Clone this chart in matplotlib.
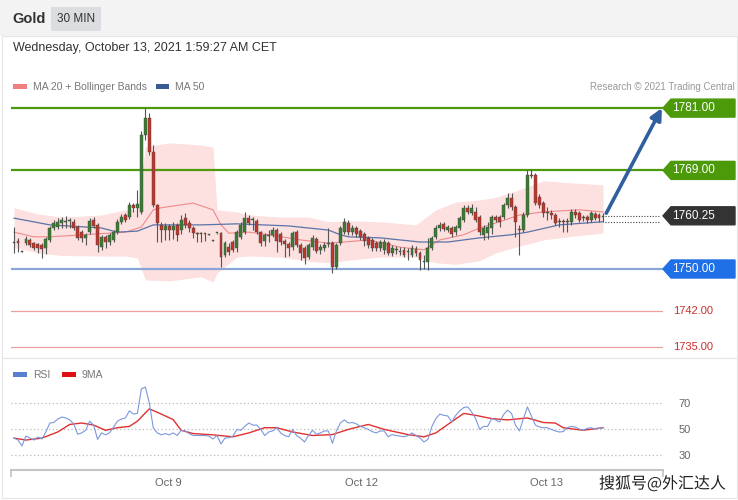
import numpy as np
import matplotlib
matplotlib.use("Agg")
import matplotlib.pyplot as plt
from matplotlib.patches import Rectangle, Polygon, FancyArrowPatch
from matplotlib.transforms import blended_transform_factory
import matplotlib.patheffects as pe

plt.rcParams['font.family'] = ['Liberation Sans', 'DejaVu Sans']

# ---- candles (30 min, oldest -> newest) ----
opens = [1755.2, 1755.3, 1753.4, 1755.0, 1755.6, 1755.0, 1754.8, 1754.6, 1754.0, 1755.6,
         1757.9, 1758.1, 1758.9, 1759.1, 1759.2, 1759.1, 1758.1, 1757.1, 1756.0, 1757.1,
         1759.4, 1758.5, 1754.2, 1756.2, 1755.2, 1755.6, 1757.1, 1759.1, 1760.4, 1760.0,
         1762.3, 1761.8, 1761.0, 1775.8, 1779.1, 1772.5, 1762.3, 1758.5, 1757.5, 1758.3,
         1757.5, 1758.5, 1757.5, 1759.8, 1758.9, 1757.9, 1756.9, 1756.8, 1756.9, 1756.6,
         1755.4, 1756.9, 1756.9, 1752.7, 1754.2, 1755.2, 1754.0, 1756.2, 1757.1, 1759.8,
         1759.4, 1759.3, 1757.1, 1755.4, 1756.4, 1756.6, 1757.5, 1756.7, 1755.4, 1754.8,
         1754.2, 1757.1, 1754.6, 1754.0, 1752.3, 1754.2, 1755.8, 1753.7, 1754.0, 1754.8,
         1755.0, 1750.4, 1755.0, 1757.1, 1758.9, 1757.1, 1757.9, 1757.3, 1756.7, 1756.0,
         1755.6, 1755.0, 1754.0, 1753.7, 1755.0, 1753.1, 1753.7, 1753.3, 1753.7, 1753.3,
         1752.7, 1753.9, 1753.1, 1751.3, 1751.3, 1754.0, 1756.2, 1757.9, 1758.7, 1757.5,
         1757.9, 1757.1, 1757.9, 1759.4, 1761.8, 1760.8, 1761.0, 1760.0, 1756.6, 1756.9,
         1757.9, 1760.0, 1760.0, 1760.0, 1762.3, 1763.7, 1761.9, 1757.6, 1757.5, 1760.4,
         1768.1, 1768.1, 1763.9, 1762.7, 1760.8, 1760.8, 1760.4, 1759.1, 1759.1, 1759.0,
         1759.1, 1761.0, 1760.8, 1759.8, 1760.0, 1759.4, 1760.6, 1760.4, 1760.0]
closes = [1755.0, 1755.1, 1753.3, 1755.8, 1754.6, 1754.0, 1754.0, 1753.8, 1755.8, 1757.9,
          1758.9, 1759.1, 1759.4, 1759.2, 1759.3, 1757.9, 1756.0, 1756.0, 1756.6, 1759.3,
          1758.3, 1754.6, 1756.2, 1755.2, 1756.6, 1757.1, 1759.1, 1760.0, 1759.4, 1762.3,
          1761.8, 1762.6, 1775.8, 1779.1, 1772.5, 1762.3, 1758.9, 1757.5, 1758.3, 1757.5,
          1758.3, 1756.6, 1759.4, 1758.5, 1757.9, 1756.9, 1756.8, 1756.9, 1756.8, 1756.6,
          1755.4, 1756.9, 1752.3, 1755.0, 1753.3, 1753.7, 1757.1, 1758.5, 1759.8, 1758.9,
          1759.5, 1757.1, 1755.0, 1756.6, 1756.5, 1757.5, 1755.4, 1755.2, 1754.8, 1754.0,
          1756.9, 1754.6, 1753.1, 1752.1, 1754.6, 1756.0, 1753.5, 1754.2, 1754.6, 1754.9,
          1750.4, 1754.6, 1757.9, 1759.1, 1757.1, 1757.9, 1756.7, 1756.2, 1755.4, 1754.6,
          1754.0, 1754.0, 1755.2, 1755.2, 1753.1, 1754.0, 1753.8, 1753.4, 1752.7, 1753.4,
          1754.0, 1753.1, 1751.7, 1751.4, 1754.0, 1756.0, 1757.9, 1758.5, 1757.7, 1758.1,
          1756.7, 1758.1, 1759.8, 1761.8, 1761.0, 1761.8, 1759.4, 1757.1, 1757.9, 1758.1,
          1760.0, 1759.4, 1759.1, 1762.3, 1763.7, 1761.9, 1759.1, 1757.5, 1760.4, 1768.1,
          1768.0, 1762.7, 1762.3, 1760.8, 1760.9, 1760.4, 1758.9, 1759.2, 1759.0, 1759.1,
          1761.0, 1760.4, 1759.4, 1759.9, 1759.4, 1760.8, 1759.8, 1759.8, 1760.25]
highs = [1758.1, 1756.0, 1753.5, 1756.3, 1756.0, 1755.2, 1755.0, 1755.0, 1756.2, 1758.3,
         1759.4, 1759.8, 1760.0, 1760.2, 1759.8, 1759.6, 1758.5, 1757.5, 1757.0, 1759.8,
         1760.0, 1758.9, 1756.6, 1756.6, 1757.0, 1757.5, 1759.6, 1760.6, 1760.8, 1763.0,
         1762.8, 1765.2, 1776.5, 1781.0, 1780.0, 1773.9, 1762.6, 1759.0, 1758.9, 1758.7,
         1759.0, 1758.9, 1760.4, 1760.8, 1759.4, 1758.3, 1757.1, 1757.1, 1757.0, 1756.7,
         1755.5, 1757.0, 1757.1, 1755.4, 1755.0, 1755.6, 1757.5, 1759.0, 1761.0, 1760.4,
         1760.0, 1759.6, 1757.3, 1757.0, 1757.5, 1758.0, 1757.9, 1757.1, 1755.8, 1755.2,
         1757.3, 1757.5, 1755.0, 1754.4, 1755.0, 1756.6, 1756.2, 1754.8, 1755.2, 1757.9,
         1755.4, 1755.0, 1758.3, 1759.8, 1759.4, 1758.5, 1758.3, 1757.7, 1757.1, 1756.4,
         1756.0, 1755.4, 1755.6, 1755.8, 1755.4, 1754.6, 1754.4, 1754.2, 1754.2, 1754.0,
         1754.6, 1754.4, 1753.5, 1752.7, 1756.0, 1756.4, 1758.5, 1759.1, 1759.1, 1758.5,
         1758.3, 1758.5, 1760.2, 1762.3, 1762.3, 1762.6, 1762.0, 1760.4, 1758.5, 1759.0,
         1760.4, 1760.4, 1760.4, 1762.8, 1764.6, 1764.6, 1762.3, 1758.5, 1761.0, 1769.1,
         1769.3, 1768.5, 1764.4, 1763.1, 1761.9, 1761.4, 1760.8, 1759.8, 1759.6, 1759.8,
         1761.6, 1761.6, 1761.2, 1760.4, 1760.4, 1761.2, 1761.0, 1760.8, 1760.8]
lows = [1753.1, 1753.3, 1753.2, 1754.6, 1754.2, 1753.6, 1753.0, 1752.1, 1752.8, 1755.2,
        1757.5, 1757.7, 1757.9, 1757.9, 1757.9, 1757.5, 1755.6, 1755.2, 1754.6, 1756.8,
        1757.9, 1753.3, 1753.7, 1754.0, 1754.6, 1755.2, 1756.8, 1758.7, 1759.0, 1759.6,
        1761.0, 1760.0, 1760.6, 1774.8, 1772.0, 1762.0, 1755.2, 1755.2, 1755.6, 1755.6,
        1755.8, 1755.4, 1756.8, 1757.9, 1757.1, 1756.0, 1755.2, 1755.2, 1755.4, 1756.5,
        1755.3, 1756.8, 1750.4, 1752.3, 1752.7, 1753.3, 1753.3, 1755.8, 1756.8, 1758.5,
        1757.5, 1756.8, 1754.4, 1754.4, 1755.2, 1756.2, 1753.3, 1754.6, 1752.3, 1752.5,
        1753.7, 1754.2, 1751.7, 1751.0, 1751.9, 1753.7, 1753.0, 1752.9, 1753.5, 1754.2,
        1749.2, 1750.0, 1754.6, 1756.8, 1756.6, 1756.6, 1756.2, 1755.6, 1754.4, 1754.0,
        1753.5, 1753.5, 1753.5, 1752.9, 1752.7, 1752.5, 1752.9, 1752.7, 1752.3, 1751.7,
        1752.3, 1752.5, 1749.8, 1750.0, 1749.8, 1753.7, 1755.8, 1757.3, 1757.3, 1757.1,
        1756.2, 1756.6, 1757.5, 1759.0, 1760.6, 1760.4, 1759.0, 1756.6, 1755.6, 1755.8,
        1756.8, 1759.0, 1758.1, 1759.6, 1761.8, 1761.4, 1756.2, 1752.7, 1757.1, 1760.0,
        1767.5, 1762.3, 1761.8, 1760.0, 1759.4, 1759.6, 1758.5, 1758.1, 1757.1, 1757.1,
        1758.5, 1759.8, 1759.0, 1759.2, 1758.9, 1759.0, 1759.4, 1759.0, 1759.0]

# ---- Bollinger bands / moving averages (read at candle indices) ----
bb_idx = [0, 6, 12, 22, 28, 31, 33, 39, 47, 50, 51, 56, 59, 67, 74, 79, 84, 92, 101,
          106, 111, 117, 121, 126, 133, 140, 148]
bb_upper = [1761.8, 1760.6, 1760.0, 1760.4, 1761.4, 1761.6, 1773.5, 1774.3, 1773.9, 1773.5,
            1761.4, 1761.0, 1760.4, 1760.0, 1760.0, 1759.1, 1759.3, 1759.1, 1758.5,
            1761.4, 1762.9, 1763.3, 1763.8, 1765.0, 1767.0, 1766.6, 1766.2]
bb_lower = [1754.2, 1753.1, 1752.6, 1752.5, 1752.5, 1752.1, 1747.9, 1747.7, 1748.5, 1747.5,
            1749.2, 1752.3, 1752.5, 1752.3, 1751.5, 1751.2, 1751.7, 1752.3, 1752.3,
            1751.2, 1750.9, 1751.6, 1753.1, 1754.2, 1755.6, 1756.3, 1756.9]
ma20_idx = [0, 5, 9, 28, 32, 35, 37, 45, 50, 52, 54, 59, 64, 72, 79, 83, 89, 97, 103,
            107, 113, 117, 122, 127, 133, 142, 148]
ma20 = [1757.1, 1756.2, 1756.2, 1757.1, 1758.1, 1761.4, 1761.8, 1762.7, 1761.4, 1758.5,
        1756.9, 1757.1, 1756.6, 1755.6, 1755.0, 1755.2, 1755.6, 1754.2, 1753.7,
        1755.6, 1756.6, 1757.9, 1759.1, 1760.4, 1761.0, 1761.4, 1761.0]
ma50_idx = [0, 9, 22, 26, 31, 35, 47, 56, 69, 79, 82, 84, 92, 102, 109, 117, 125, 129, 137, 148]
ma50 = [1759.8, 1758.5, 1757.9, 1757.1, 1757.3, 1758.5, 1758.5, 1758.7, 1758.3, 1757.5,
        1756.6, 1756.2, 1756.0, 1755.2, 1755.2, 1756.0, 1756.6, 1757.1, 1758.5, 1759.1]

# ---- key levels ----
res_levels = [1781.00, 1769.00]
sup_levels = [1750.00]
red_levels = [1742.00, 1735.00]
target = 1781.00

# ---- RSI panel ----
rsi = [43, 41.5, 37, 44.6, 43, 41.5, 43.8, 42.3, 47.7, 54.6,
       55, 57.7, 59.2, 58.5, 57, 54, 46, 47, 49, 56,
       53, 42, 47, 45.5, 47, 51.5, 56, 57.7, 58.5, 64,
       61.5, 62, 80.8, 82.3, 70, 50.8, 47, 45.5, 46.5, 45.5,
       47, 45, 49, 48.5, 46.5, 45, 45, 45, 45, 44.5,
       42.3, 45, 38.5, 43, 43.3, 44.5, 49.7, 49, 52, 54.6,
       53, 53, 49.7, 45, 47.7, 48.5, 51, 47, 45, 44,
       49.7, 45, 43, 40, 45, 49, 46, 47, 48.5, 48.5,
       39, 48.5, 54.6, 57, 54.6, 55, 54, 52, 51, 49.7,
       48, 47, 48.5, 48.5, 44, 45.7, 45, 44.5, 44, 45,
       47, 45, 43, 40, 42, 52, 58, 61.5, 60.5, 60,
       55.4, 60.5, 64, 66.5, 67, 63, 58, 49.7, 52, 52,
       58, 57, 55.4, 61, 64.5, 62, 53, 48.5, 58, 67,
       60, 53, 51.5, 51, 51, 49.7, 48.5, 47.7, 48, 51,
       52, 51.5, 50, 49, 50.5, 51, 50, 50.5, 51]
rsi_ma_idx = [0, 3, 7, 11, 14, 17, 20, 23, 26, 29, 31, 34, 37, 40, 42, 45, 50, 55, 59, 63,
              66, 70, 75, 80, 84, 89, 93, 99, 103, 106, 109, 113, 116, 120, 124, 129, 133,
              136, 138, 143, 148]
rsi_ma = [43, 41.5, 43, 47.7, 53.5, 54.6, 53, 49, 51, 52, 56, 65.5, 61.5, 57.2, 49, 46.5,
          45.5, 44, 47, 51, 51, 47.7, 45, 45.7, 49.7, 53.5, 49.7, 45.7, 44, 47, 53.5, 62,
          60.5, 58, 57, 58.5, 55, 54.6, 51, 49, 51]
rsi_levels = [30, 50, 70]
day_labels = ["Oct 9", "Oct 12", "Oct 13"]
day_pos = [38.7, 87.2, 133.7]

# ---- figure ----
W, H = 738, 500
fig = plt.figure(figsize=(W / 100, H / 100), dpi=100)

bg = fig.add_axes([0, 0, 1, 1], zorder=-5)
bg.set_xlim(0, W)
bg.set_ylim(H, 0)
bg.axis("off")
bg.add_patch(Rectangle((0, 0), W, 36, color="#f3f3f3", lw=0))
bg.add_patch(Rectangle((51, 7), 50, 24, color="#dcdde0", lw=0))
bg.text(12, 19, "Gold", fontsize=10.5, fontweight="bold", color="#333333", va="center")
bg.text(76, 19, "30 MIN", fontsize=8.5, color="#333333", va="center", ha="center")
bg.text(13, 48, "Wednesday, October 13, 2021 1:59:27 AM CET", fontsize=9,
        color="#333333", va="center")
bg.add_patch(Rectangle((1.5, 36), 735, 322, fill=False, ec="#e6e6e6", lw=0.8))
bg.add_patch(Rectangle((1.5, 358), 735, 140, fill=False, ec="#e6e6e6", lw=0.8))
bg.add_patch(Rectangle((13, 84), 14, 5, color="#f08080", lw=0))
bg.text(33, 86.5, "MA 20 + Bollinger Bands", fontsize=7.5, color="#777777", va="center")
bg.add_patch(Rectangle((156, 84), 13, 5, color="#3a5a95", lw=0))
bg.text(175, 86.5, "MA 50", fontsize=7.5, color="#777777", va="center")
bg.text(735, 86.5, "Research \u00a9 2021 Trading Central", fontsize=7, color="#999999",
        va="center", ha="right")
bg.add_patch(Rectangle((13, 372), 14, 5, color="#5b7fd0", lw=0))
bg.text(33, 374.5, "RSI", fontsize=7.5, color="#777777", va="center")
bg.add_patch(Rectangle((62, 372), 14, 5, color="#dd1111", lw=0))
bg.text(82, 374.5, "9MA", fontsize=7.5, color="#777777", va="center")
bg.text(599, 484, "搜狐号@外汇达人", fontsize=11.5, color="#222222", va="center",
        family=["Noto Sans CJK SC", "DejaVu Sans"],
        path_effects=[pe.withStroke(linewidth=2.5, foreground="white")], zorder=10)

# price panel
n = len(closes)
x = np.arange(n)
px_per = 3.98
x0 = (11 - 14) / px_per
x1 = (663 - 14) / px_per
ax = fig.add_axes([11 / W, 1 - 356 / H, 652 / W, 256 / H])
ax.set_xlim(x0, x1)
ax.set_ylim(1750 - 87 / 5.19, 1750 + 169 / 5.19)
ax.axis("off")

ax.fill_between(bb_idx, bb_lower, bb_upper, color="#fde0e0", lw=0, zorder=1)
ax.plot(ma20_idx, ma20, color="#f08a8a", lw=0.8, zorder=2)
ax.plot(ma50_idx, ma50, color="#5a74a8", lw=0.9, zorder=2)

for lv in res_levels:
    ax.axhline(lv, color="#4e9a0e", lw=1.6, zorder=3)
for lv in sup_levels:
    ax.axhline(lv, color="#8aa6d8", lw=1.6, zorder=3)
for lv in red_levels:
    ax.axhline(lv, color="#eba0a0", lw=0.9, zorder=3)

o = np.array(opens)
c = np.array(closes)
up = c >= o
ax.vlines(x, lows, highs, color="#555555", lw=0.8, zorder=4)
body_lo = np.minimum(o, c)
body_h = np.maximum(np.abs(c - o), 0.2)
ax.bar(x[up], body_h[up], bottom=body_lo[up], width=0.72, color="#3a7d32",
       edgecolor="#444444", lw=0.3, zorder=5)
ax.bar(x[~up], body_h[~up], bottom=body_lo[~up], width=0.72, color="#c0352c",
       edgecolor="#444444", lw=0.3, zorder=5)

# dotted current price lines
ax.plot([n - 0.5, x1 - 0.8], [closes[-1], closes[-1]], color="#444444", lw=0.8,
        ls=(0, (1, 1.5)), zorder=3)
ax.plot([n - 0.5, x1 - 0.8], [ma50[-1], ma50[-1]], color="#444444", lw=0.8,
        ls=(0, (1, 1.5)), zorder=3)

# arrow to target
arr = FancyArrowPatch((n - 0.2, closes[-1] + 0.5), (x1 - 0.3, target),
                      arrowstyle="-|>", mutation_scale=17, color="#2f5f9f", lw=2.6,
                      zorder=6, clip_on=False, shrinkA=0, shrinkB=0)
ax.add_patch(arr)

# right-hand tags
tr = blended_transform_factory(ax.transAxes, ax.transData)
half = 9 / 5.19
tip, sh, rt = 1.0, (671 - 11) / 652, (735 - 11) / 652
tags = [(lv, "#4c9a0a") for lv in res_levels] + [(closes[-1], "#333333")] + \
       [(lv, "#1f6fe6") for lv in sup_levels]
for lv, col in tags:
    poly = Polygon([(tip, lv), (sh, lv + half), (rt, lv + half), (rt, lv - half),
                    (sh, lv - half)], closed=True, transform=tr, color=col,
                   clip_on=False, zorder=6)
    ax.add_patch(poly)
    ax.text(sh + 0.002, lv, f"{lv:.2f}", transform=tr, color="white", fontsize=8.5,
            va="center", ha="left", clip_on=False, zorder=7)
for lv in red_levels:
    ax.text(sh + 0.003, lv, f"{lv:.2f}", transform=tr, color="#cc2f2f", fontsize=8,
            va="center", ha="left", clip_on=False)

# RSI panel
rx = fig.add_axes([11 / W, 1 - 470 / H, 652 / W, 85 / H])
rx.set_xlim(x0, x1)
rx.set_ylim(50 - 41 / 1.3, 50 + 44 / 1.3)
for lv in rsi_levels:
    rx.axhline(lv, color="#bbbbbb", lw=0.9, ls=(0, (1, 2)), zorder=1)
rx.plot(x, rsi, color="#7b98dc", lw=0.8, zorder=3)
rx.plot(rsi_ma_idx, rsi_ma, color="#e03030", lw=1.0, zorder=2)
for s in ["top", "right", "left"]:
    rx.spines[s].set_visible(False)
rx.spines["bottom"].set_color("#c4c4c4")
rx.spines["bottom"].set_linewidth(1.5)
rx.set_xticks(day_pos)
rx.set_xticklabels(day_labels, fontsize=8, color="#666666")
rx.tick_params(axis="x", length=0, pad=6)
rx.set_xticks([x0 + 0.1, x1 - 0.1], minor=True)
rx.tick_params(axis="x", which="minor", length=5, width=1.2, color="#c4c4c4")
rx.yaxis.tick_right()
rx.set_yticks(rsi_levels)
rx.set_yticklabels([str(v) for v in rsi_levels], fontsize=8, color="#666666")
rx.tick_params(axis="y", length=0, pad=11)
rx.patch.set_alpha(0)

fig.savefig("out.png", dpi=100)
